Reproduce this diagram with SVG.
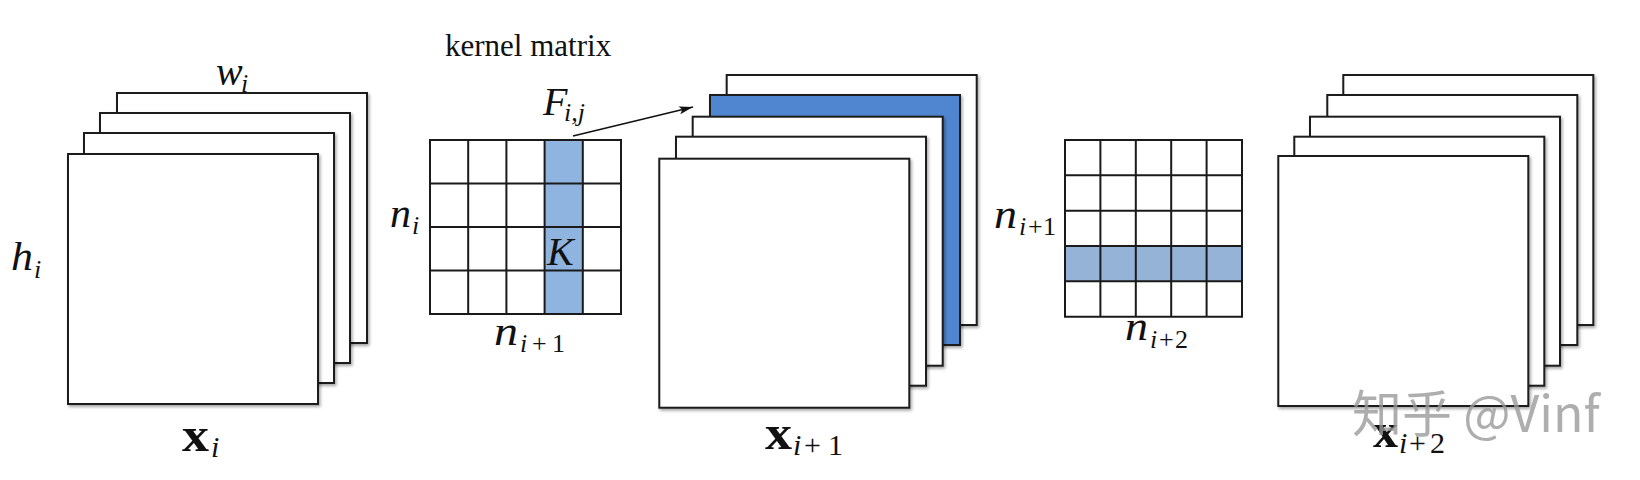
<svg xmlns="http://www.w3.org/2000/svg" width="1640" height="480" viewBox="0 0 1640 480">
<style>
.sheet{fill:#fff;stroke:#1a1a1a;stroke-width:2;filter:url(#sh)}
.blue{fill:#4f86cf}
.grid{fill:none;stroke:#1a1a1a;stroke-width:2}
.cell{fill:#fff}
.hl{fill:#8fb4e0}
.hl2{fill:#94b3d6}
.mi{font-family:"Liberation Serif",serif;font-style:italic;font-size:40px;fill:#111}
.sub{font-family:"Liberation Serif",serif;font-style:italic;font-size:26px;fill:#111}
.up{font-style:normal}
.bx{font-family:"Liberation Serif",serif;font-weight:bold;font-size:48px;fill:#111}
.bsub{font-family:"Liberation Serif",serif;font-size:30px;fill:#111}
.txt{font-family:"Liberation Serif",serif;font-size:31px;fill:#111}
.wm{font-family:"Noto Sans CJK SC","Noto Sans",sans-serif;font-size:50px;fill:#9a9a9a;fill-opacity:0.8}
</style>
<defs>
<filter id="sh" x="-5%" y="-5%" width="115%" height="115%">
<feDropShadow dx="1.5" dy="2" stdDeviation="1.5" flood-color="#000" flood-opacity="0.35"/>
</filter>
<marker id="arr" markerUnits="userSpaceOnUse" markerWidth="16" markerHeight="10" refX="14" refY="5" orient="auto">
<path d="M0,1 L14,5 L0,9 L3,5 z" fill="#111"/>
</marker>
</defs>
<rect width="1640" height="480" fill="#fff"/>

<g id="stack-xi">
<rect class="sheet" x="117" y="93" width="250" height="250"/>
<rect class="sheet" x="100" y="113" width="250" height="250"/>
<rect class="sheet" x="84" y="133" width="250" height="250"/>
<rect class="sheet" x="68" y="154" width="250" height="250"/>
<text class="mi" x="216" y="85" font-size="38">w</text>
<text class="sub" x="241" y="92">i</text>
<text class="mi" x="11" y="270" textLength="22" lengthAdjust="spacingAndGlyphs">h</text>
<text class="sub" x="34" y="278">i</text>
<text class="bx" x="182" y="451" textLength="27" lengthAdjust="spacingAndGlyphs">x</text>
<text class="bsub" font-style="italic" x="211" y="457">i</text>
</g>

<g id="kernel1">
<text class="txt" x="445" y="56">kernel matrix</text>
<rect class="cell" x="430" y="140" width="191" height="174"/>
<rect class="hl" x="544.6" y="140" width="38.2" height="174"/>
<path class="grid" d="M430,140H621V314H430Z M468.2,140V314 M506.4,140V314 M544.6,140V314 M582.8,140V314 M430,183.5H621 M430,227H621 M430,270.5H621"/>
<text class="mi" font-size="28" x="547" y="265">K</text>
<text class="mi" x="390" y="227" font-size="38" textLength="21" lengthAdjust="spacingAndGlyphs">n</text>
<text class="sub" x="412" y="234">i</text>
<text class="mi" x="494" y="345" textLength="24" lengthAdjust="spacingAndGlyphs">n</text>
<text class="sub"><tspan x="520" y="352">i</tspan><tspan class="up" x="532" y="352">+</tspan><tspan class="up" x="552" y="352">1</tspan></text>
<text class="mi" x="543" y="115" font-size="30">F</text>
<text class="sub" font-size="22" x="564" y="121">i,j</text>
</g>

<g id="stack-xi1">
<rect class="sheet" x="726.7" y="75" width="250" height="250"/>
<rect class="sheet blue" x="710" y="95" width="250" height="250"/>
<rect class="sheet" x="692.7" y="116.7" width="250" height="249"/>
<rect class="sheet" x="676" y="136.7" width="250" height="249"/>
<rect class="sheet" x="659.3" y="158.7" width="250" height="249"/>
<text class="bx" x="765" y="449" textLength="27" lengthAdjust="spacingAndGlyphs">x</text>
<text class="bsub"><tspan font-style="italic" x="793" y="455">i</tspan><tspan x="804" y="455">+</tspan><tspan x="828" y="455">1</tspan></text>
</g>

<g id="kernel2">
<rect class="cell" x="1065" y="140" width="177" height="176.7"/>
<rect class="hl2" x="1065" y="246" width="177" height="35.3"/>
<path class="grid" d="M1065,140H1242V316.7H1065Z M1100.4,140V316.7 M1135.8,140V316.7 M1171.2,140V316.7 M1206.6,140V316.7 M1065,175.3H1242 M1065,210.7H1242 M1065,246H1242 M1065,281.3H1242"/>
<text class="mi" x="994" y="228" textLength="23" lengthAdjust="spacingAndGlyphs">n</text>
<text class="sub"><tspan x="1019" y="235">i</tspan><tspan class="up" x="1028" y="235">+</tspan><tspan class="up" x="1043" y="235">1</tspan></text>
<text class="mi" x="1125" y="340" textLength="23" lengthAdjust="spacingAndGlyphs">n</text>
<text class="sub"><tspan x="1150" y="348">i</tspan><tspan class="up" x="1159" y="348">+</tspan><tspan class="up" x="1175" y="348">2</tspan></text>
</g>

<g id="stack-xi2">
<rect class="sheet" x="1343.3" y="75" width="250" height="250"/>
<rect class="sheet" x="1327.3" y="95" width="250" height="250"/>
<rect class="sheet" x="1310" y="116.7" width="250" height="249"/>
<rect class="sheet" x="1294.3" y="136.7" width="250" height="249"/>
<rect class="sheet" x="1278.3" y="156" width="250" height="250"/>
<text class="bx" x="1373" y="447" textLength="25" lengthAdjust="spacingAndGlyphs">x</text>
<text class="bsub"><tspan font-style="italic" x="1399" y="453">i</tspan><tspan x="1409" y="453">+</tspan><tspan x="1430" y="453">2</tspan></text>
</g>

<g id="connectors">
<line x1="573" y1="136" x2="693" y2="107" stroke="#111" stroke-width="1.6" marker-end="url(#arr)"/>
</g>

<text class="wm" x="1352" y="432">知乎 @Vinf</text>
</svg>
